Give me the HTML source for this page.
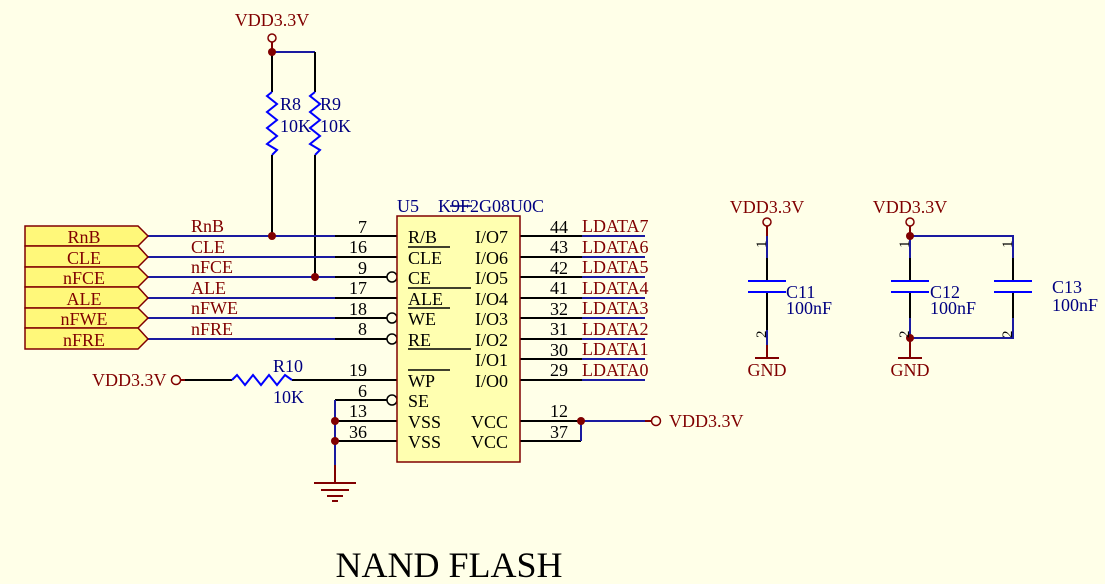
<!DOCTYPE html>
<html><head><meta charset="utf-8"><style>
html,body{margin:0;padding:0;background:#FFFFE8;}
svg{display:block;}
text{font-family:"Liberation Serif",serif;}
</style></head><body>
<svg width="1105" height="584" viewBox="0 0 1105 584" xmlns="http://www.w3.org/2000/svg">
<rect width="1105" height="584" fill="#FFFFE8"/>
<g font-size="18" fill="#800000">
<text x="272" y="26" text-anchor="middle">VDD3.3V</text>
</g>
<g stroke-width="2" fill="none">
<circle cx="272" cy="38" r="4" stroke="#800000" stroke-width="1.5"/>
<line x1="272" y1="42" x2="272" y2="52" stroke="#800000"/>
<line x1="272" y1="52" x2="315" y2="52" stroke="#1a1aa0"/>
<line x1="315" y1="52" x2="315" y2="92" stroke="#000"/>
<line x1="272" y1="52" x2="272" y2="92" stroke="#000"/>
<polyline points="272,92 267,96 277,104 267,112 277,120 267,128 277,136 267,144 277,150 272,155" stroke="#0000ff"/>
<polyline points="315,92 310,96 320,104 310,112 320,120 310,128 320,136 310,144 320,150 315,155" stroke="#0000ff"/>
<line x1="272" y1="155" x2="272" y2="236" stroke="#000"/>
<line x1="315" y1="155" x2="315" y2="277" stroke="#000"/>
<g stroke="#1a1aa0">
<line x1="148" y1="236" x2="335" y2="236"/><line x1="148" y1="257" x2="335" y2="257"/>
<line x1="148" y1="277" x2="335" y2="277"/><line x1="148" y1="298" x2="335" y2="298"/>
<line x1="148" y1="318" x2="335" y2="318"/><line x1="148" y1="339" x2="335" y2="339"/>
</g>
<g stroke="#000">
<line x1="335" y1="236" x2="397" y2="236"/><line x1="335" y1="257" x2="397" y2="257"/>
<line x1="335" y1="277" x2="387" y2="277"/><line x1="335" y1="298" x2="397" y2="298"/>
<line x1="335" y1="318" x2="387" y2="318"/><line x1="335" y1="339" x2="387" y2="339"/>
<line x1="292" y1="380" x2="397" y2="380"/><line x1="335" y1="400" x2="387" y2="400"/>
<line x1="335" y1="421" x2="397" y2="421"/><line x1="335" y1="441" x2="397" y2="441"/>
<line x1="185" y1="380" x2="232" y2="380"/>
</g>
<g stroke="#000" stroke-width="1.5">
<circle cx="392" cy="277" r="5"/><circle cx="392" cy="318" r="5"/>
<circle cx="392" cy="339" r="5"/><circle cx="392" cy="400" r="5"/>
</g>
<circle cx="176" cy="380" r="4.5" stroke="#800000" stroke-width="1.5"/>
<line x1="181" y1="380" x2="185" y2="380" stroke="#800000"/>
<polyline points="232,380 237,375 245,385 253,375 261,385 269,375 277,385 285,375 292,380" stroke="#0000ff"/>
<line x1="335" y1="400" x2="335" y2="465" stroke="#1a1aa0"/>
<g stroke="#800000">
<line x1="335" y1="465" x2="335" y2="483"/>
<line x1="314" y1="483" x2="356" y2="483"/>
<line x1="321" y1="490" x2="349" y2="490"/>
<line x1="327" y1="496" x2="343" y2="496"/>
<line x1="332" y1="501" x2="338" y2="501"/>
</g>
<g stroke="#000">
<line x1="520" y1="236" x2="582" y2="236"/><line x1="520" y1="257" x2="582" y2="257"/>
<line x1="520" y1="277" x2="582" y2="277"/><line x1="520" y1="298" x2="582" y2="298"/>
<line x1="520" y1="318" x2="582" y2="318"/><line x1="520" y1="339" x2="582" y2="339"/>
<line x1="520" y1="359" x2="582" y2="359"/><line x1="520" y1="380" x2="582" y2="380"/>
<line x1="520" y1="421" x2="581" y2="421"/><line x1="520" y1="441" x2="581" y2="441"/>
</g>
<g stroke="#1a1aa0">
<line x1="582" y1="236" x2="645" y2="236"/><line x1="582" y1="257" x2="645" y2="257"/>
<line x1="582" y1="277" x2="645" y2="277"/><line x1="582" y1="298" x2="645" y2="298"/>
<line x1="582" y1="318" x2="645" y2="318"/><line x1="582" y1="339" x2="645" y2="339"/>
<line x1="582" y1="359" x2="645" y2="359"/><line x1="582" y1="380" x2="645" y2="380"/>
<line x1="581" y1="421" x2="645" y2="421"/><line x1="581" y1="421" x2="581" y2="441"/>
</g>
<line x1="645" y1="421" x2="651" y2="421" stroke="#800000"/>
<circle cx="656" cy="421" r="4.5" stroke="#800000" stroke-width="1.5"/>
<rect x="397" y="216" width="123" height="246" fill="#FFFFB0" stroke="#800000" stroke-width="1.5"/>
<g stroke="#000" stroke-width="1.5">
<line x1="408" y1="247" x2="450" y2="247"/>
<line x1="408" y1="288" x2="471" y2="288"/>
<line x1="408" y1="308" x2="450" y2="308"/>
<line x1="408" y1="349" x2="471" y2="349"/>
<line x1="408" y1="370" x2="450" y2="370"/>
</g>
<g stroke-width="2">
<circle cx="767" cy="222" r="4" stroke="#800000" stroke-width="1.5"/>
<line x1="767" y1="226" x2="767" y2="236" stroke="#800000"/>
<line x1="767" y1="236" x2="767" y2="258" stroke="#1a1aa0"/>
<line x1="767" y1="258" x2="767" y2="280" stroke="#000"/>
<line x1="748" y1="281" x2="786" y2="281" stroke="#0000ff"/>
<line x1="748" y1="292" x2="786" y2="292" stroke="#0000ff"/>
<line x1="767" y1="293" x2="767" y2="330" stroke="#000"/>
<line x1="767" y1="330" x2="767" y2="345" stroke="#1a1aa0"/>
<line x1="767" y1="345" x2="767" y2="358" stroke="#800000"/>
<line x1="755" y1="358" x2="779" y2="358" stroke="#800000"/>
<circle cx="910" cy="222" r="4" stroke="#800000" stroke-width="1.5"/>
<line x1="910" y1="226" x2="910" y2="236" stroke="#800000"/>
<polyline points="910,258 910,236 1013,236 1013,258" stroke="#1a1aa0"/>
<line x1="910" y1="258" x2="910" y2="280" stroke="#000"/>
<line x1="1013" y1="258" x2="1013" y2="280" stroke="#000"/>
<line x1="891" y1="281" x2="929" y2="281" stroke="#0000ff"/>
<line x1="891" y1="292" x2="929" y2="292" stroke="#0000ff"/>
<line x1="994" y1="281" x2="1032" y2="281" stroke="#0000ff"/>
<line x1="994" y1="292" x2="1032" y2="292" stroke="#0000ff"/>
<line x1="910" y1="293" x2="910" y2="318" stroke="#000"/>
<line x1="1013" y1="293" x2="1013" y2="318" stroke="#000"/>
<polyline points="910,318 910,338 1013,338 1013,318" stroke="#1a1aa0"/>
<line x1="910" y1="338" x2="910" y2="358" stroke="#800000"/>
<line x1="898" y1="358" x2="922" y2="358" stroke="#800000"/>
</g>
</g>
<g fill="#800000">
<circle cx="272" cy="52" r="4"/><circle cx="272" cy="236" r="4"/><circle cx="315" cy="277" r="4"/>
<circle cx="335" cy="421" r="4"/><circle cx="335" cy="441" r="4"/><circle cx="581" cy="421" r="4"/>
<circle cx="910" cy="236" r="4"/><circle cx="910" cy="338" r="4"/>
</g>
<g fill="#FFF87A" stroke="#800000" stroke-width="1.5">
<polygon points="25,226 138,226 148,236 138,246 25,246"/>
<polygon points="25,246 138,246 148,257 138,267 25,267"/>
<polygon points="25,267 138,267 148,277 138,287 25,287"/>
<polygon points="25,287 138,287 148,298 138,308 25,308"/>
<polygon points="25,308 138,308 148,318 138,328 25,328"/>
<polygon points="25,328 138,328 148,339 138,349 25,349"/>
</g>
<g font-size="18" fill="#800000" text-anchor="middle">
<text x="84" y="243">RnB</text><text x="84" y="264">CLE</text><text x="84" y="284">nFCE</text>
<text x="84" y="305">ALE</text><text x="84" y="325">nFWE</text><text x="84" y="346">nFRE</text>
</g>
<g font-size="18" fill="#800000">
<text x="191" y="232">RnB</text><text x="191" y="253">CLE</text><text x="191" y="273">nFCE</text>
<text x="191" y="294">ALE</text><text x="191" y="314">nFWE</text><text x="191" y="335">nFRE</text>
<text x="92" y="386">VDD3.3V</text>
<text x="669" y="427">VDD3.3V</text>
<text x="582" y="232">LDATA7</text><text x="582" y="253">LDATA6</text><text x="582" y="273">LDATA5</text>
<text x="582" y="294">LDATA4</text><text x="582" y="314">LDATA3</text><text x="582" y="335">LDATA2</text>
<text x="582" y="355">LDATA1</text><text x="582" y="376">LDATA0</text>
<text x="767" y="213" text-anchor="middle">VDD3.3V</text>
<text x="910" y="213" text-anchor="middle">VDD3.3V</text>
<text x="767" y="376" text-anchor="middle">GND</text>
<text x="910" y="376" text-anchor="middle">GND</text>
</g>
<g font-size="18" fill="#000">
<g text-anchor="end">
<text x="367" y="233">7</text><text x="367" y="253">16</text><text x="367" y="274">9</text>
<text x="367" y="294">17</text><text x="367" y="315">18</text><text x="367" y="335">8</text>
<text x="367" y="376">19</text><text x="367" y="397">6</text><text x="367" y="417">13</text><text x="367" y="438">36</text>
</g>
<text x="550" y="233">44</text><text x="550" y="253">43</text><text x="550" y="274">42</text>
<text x="550" y="294">41</text><text x="550" y="315">32</text><text x="550" y="335">31</text>
<text x="550" y="356">30</text><text x="550" y="376">29</text>
<text x="550" y="417">12</text><text x="550" y="438">37</text>
<text x="408" y="243">R/B</text><text x="408" y="264">CLE</text><text x="408" y="284">CE</text>
<text x="408" y="305">ALE</text><text x="408" y="325">WE</text><text x="408" y="346">RE</text>
<text x="408" y="387">WP</text><text x="408" y="407">SE</text><text x="408" y="428">VSS</text><text x="408" y="448">VSS</text>
<g text-anchor="end">
<text x="508" y="243">I/O7</text><text x="508" y="264">I/O6</text><text x="508" y="284">I/O5</text>
<text x="508" y="305">I/O4</text><text x="508" y="325">I/O3</text><text x="508" y="346">I/O2</text>
<text x="508" y="366">I/O1</text><text x="508" y="387">I/O0</text>
<text x="508" y="428">VCC</text><text x="508" y="448">VCC</text>
</g>
</g>
<g font-size="18" fill="#000080">
<text x="397" y="212">U5</text><text x="438" y="212">K9F2G08U0C</text>
<text x="280" y="110">R8</text><text x="280" y="132">10K</text>
<text x="320" y="110">R9</text><text x="320" y="132">10K</text>
<text x="273" y="372">R10</text><text x="273" y="403">10K</text>
<text x="786" y="298">C11</text><text x="786" y="314">100nF</text>
<text x="930" y="298">C12</text><text x="930" y="314">100nF</text>
<text x="1052" y="293">C13</text><text x="1052" y="311">100nF</text>
</g>
<line x1="450" y1="206" x2="472" y2="206" stroke="#000080" stroke-width="1.5"/>
<g font-size="15" fill="#000">
<text transform="translate(766,248) rotate(-90)">1</text>
<text transform="translate(766,338) rotate(-90)">2</text>
<text transform="translate(909,248) rotate(-90)">1</text>
<text transform="translate(909,338) rotate(-90)">2</text>
<text transform="translate(1012,248) rotate(-90)">1</text>
<text transform="translate(1012,338) rotate(-90)">2</text>
</g>
<text x="449" y="577" font-size="36" fill="#000" text-anchor="middle">NAND FLASH</text>
</svg>
</body></html>
